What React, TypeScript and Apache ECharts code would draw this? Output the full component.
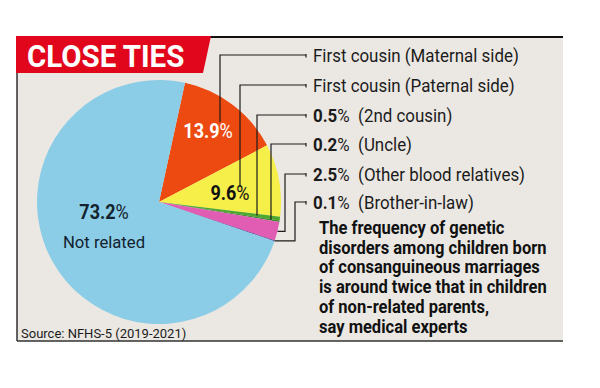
import React, { useEffect, useRef } from "react";
import * as echarts from "echarts";

const categories = [
  "First cousin (Maternal side)",
  "First cousin (Paternal side)",
  "2nd cousin",
  "Uncle",
  "Other blood relatives",
  "Brother-in-law",
  "Not related",
];
const values = [13.9, 9.6, 0.5, 0.2, 2.5, 0.1, 73.2];
const colors = ["#ec4a10", "#f6ef4a", "#4ea82e", "#3d8a2c", "#e15db3", "#3b3592", "#8bcde6"];
const showPctInLegend = [false, false, true, true, true, true];
const title = "CLOSE TIES";
const note = [
  "The frequency of genetic",
  "disorders among children born",
  "of consanguineous marriages",
  "is around twice that in children",
  "of non-related parents,",
  "say medical experts",
];
const source = "Source: NFHS-5 (2019-2021)";

const CX = 159;
const CY = 202;
const R = 122;
const START = 77.7;
const FONT = "Roboto, 'Noto Sans', sans-serif";

function midAngle(i: number): number {
  let cum = 0;
  for (let k = 0; k < i; k++) cum += values[k];
  const total = values.reduce((a, b) => a + b, 0);
  return START - ((cum + values[i] / 2) / total) * 360;
}

export default function App() {
  const ref = useRef<HTMLDivElement>(null);
  useEffect(() => {
    if (!ref.current) return;
    const chart = echarts.init(ref.current, undefined, { renderer: "svg" });

    const rowY = [55, 85, 115, 144, 174, 202];
    const vx = [220, 240, 257, 271, 285, 295];
    const mode = ["ray", "ray", "ray", "ray", "edge", "edge"];
    const leaders: any[] = [];
    const labels: any[] = [];
    for (let i = 0; i < 6; i++) {
      const a = (midAngle(i) * Math.PI) / 180;
      let pts: number[][];
      if (mode[i] === "ray") {
        const y = CY - (vx[i] - CX) * Math.tan(a);
        pts = [[306, rowY[i]], [vx[i], rowY[i]], [vx[i], y]];
      } else {
        const ex = CX + R * Math.cos(a);
        const ey = CY - R * Math.sin(a);
        pts = [[306, rowY[i]], [vx[i], rowY[i]], [vx[i], ey], [ex, ey]];
      }
      leaders.push({
        type: "polyline",
        z: 10,
        shape: { points: pts },
        style: { stroke: "#1b1b1b", lineWidth: 1.2, fill: null },
      });
      leaders.push({
        type: "line",
        z: 10,
        shape: { x1: 306, y1: rowY[i] - 1, x2: 306, y2: rowY[i] + 2.5 },
        style: { stroke: "#1b1b1b", lineWidth: 1.2 },
      });
      const txt = showPctInLegend[i]
        ? `{b|${values[i]}}{n|%  (${categories[i]})}`
        : `{n|${categories[i]}}`;
      labels.push({
        type: "text",
        z: 10,
        x: 313,
        y: rowY[i] + 1,
        scaleX: 0.94,
        style: {
          text: txt,
          verticalAlign: "middle",
          align: "left",
          rich: {
            b: { fontFamily: FONT, fontSize: 18, fontWeight: "bold", fill: "#1b1b1b" },
            n: { fontFamily: FONT, fontSize: 18, fill: "#1b1b1b" },
          },
        },
      });
    }

    chart.setOption({
      animation: false,
      backgroundColor: "#ffffff",
      graphic: [
        {
          type: "rect",
          z: -10,
          shape: { x: 17, y: 37, width: 546, height: 304 },
          style: { fill: "#ebe8e3" },
        },
        { type: "line", z: 5, shape: { x1: 17, y1: 37, x2: 563, y2: 37 }, style: { stroke: "#111", lineWidth: 2.2 } },
        { type: "line", z: 5, shape: { x1: 17, y1: 37, x2: 17, y2: 341 }, style: { stroke: "#111", lineWidth: 1.3 } },
        { type: "line", z: 5, shape: { x1: 17, y1: 341, x2: 563, y2: 341 }, style: { stroke: "#333", lineWidth: 1.3 } },
        {
          type: "polygon",
          z: 6,
          shape: { points: [[16, 36], [211, 36], [203, 73], [16, 73]] },
          style: { fill: "#e1061b" },
        },
        {
          type: "text",
          z: 7,
          x: 27,
          y: 56,
          scaleX: 0.92,
          style: {
            text: title,
            fontFamily: FONT,
            fontSize: 32,
            fontWeight: "bold",
            fill: "#ffffff",
            verticalAlign: "middle",
          },
        },
        ...leaders,
        ...labels,
        {
          type: "text",
          z: 10,
          x: 208,
          y: 131,
          scaleX: 0.9,
          style: {
            text: `{b|${values[0]}}{n|%}`,
            align: "center",
            verticalAlign: "middle",
            rich: {
              b: { fontFamily: FONT, fontSize: 20, fontWeight: "bold", fill: "#ffffff" },
              n: { fontFamily: FONT, fontSize: 20, fill: "#ffffff" },
            },
          },
        },
        {
          type: "text",
          z: 10,
          x: 230,
          y: 193,
          scaleX: 0.9,
          style: {
            text: `{b|${values[1]}}{n|%}`,
            align: "center",
            verticalAlign: "middle",
            rich: {
              b: { fontFamily: FONT, fontSize: 20, fontWeight: "bold", fill: "#111111" },
              n: { fontFamily: FONT, fontSize: 20, fill: "#111111" },
            },
          },
        },
        {
          type: "text",
          z: 10,
          x: 104,
          y: 212,
          scaleX: 0.9,
          style: {
            text: `{b|${values[6]}}{n|%}`,
            align: "center",
            verticalAlign: "middle",
            rich: {
              b: { fontFamily: FONT, fontSize: 20, fontWeight: "bold", fill: "#13222e" },
              n: { fontFamily: FONT, fontSize: 20, fill: "#13222e" },
            },
          },
        },
        {
          type: "text",
          z: 10,
          x: 104,
          y: 242,
          scaleX: 0.98,
          style: {
            text: categories[6],
            fontFamily: FONT,
            fontSize: 17,
            fill: "#13222e",
            align: "center",
            verticalAlign: "middle",
          },
        },
        {
          type: "text",
          z: 10,
          x: 319,
          y: 217,
          scaleX: 0.87,
          style: {
            text: note.join("\n"),
            fontFamily: FONT,
            fontSize: 19,
            fontWeight: "bold",
            lineHeight: 19.8,
            fill: "#111111",
            verticalAlign: "top",
          },
        },
        {
          type: "text",
          z: 10,
          x: 21,
          y: 333,
          scaleX: 1.0,
          style: {
            text: source,
            fontFamily: FONT,
            fontSize: 13,
            fill: "#1b1b1b",
            verticalAlign: "middle",
          },
        },
      ],
      series: [
        {
          type: "pie",
          center: [CX, CY],
          radius: R,
          startAngle: START,
          clockwise: true,
          z: 2,
          label: { show: false },
          labelLine: { show: false },
          emphasis: { disabled: true },
          itemStyle: { borderWidth: 0 },
          data: categories.map((c, i) => ({
            name: c,
            value: values[i],
            itemStyle: { color: colors[i] },
          })),
        },
      ],
    });
    return () => chart.dispose();
  }, []);
  return (
    <div
      ref={ref}
      style={{ position: "fixed", left: 0, top: 0, width: 600, height: 388 }}
    />
  );
}
